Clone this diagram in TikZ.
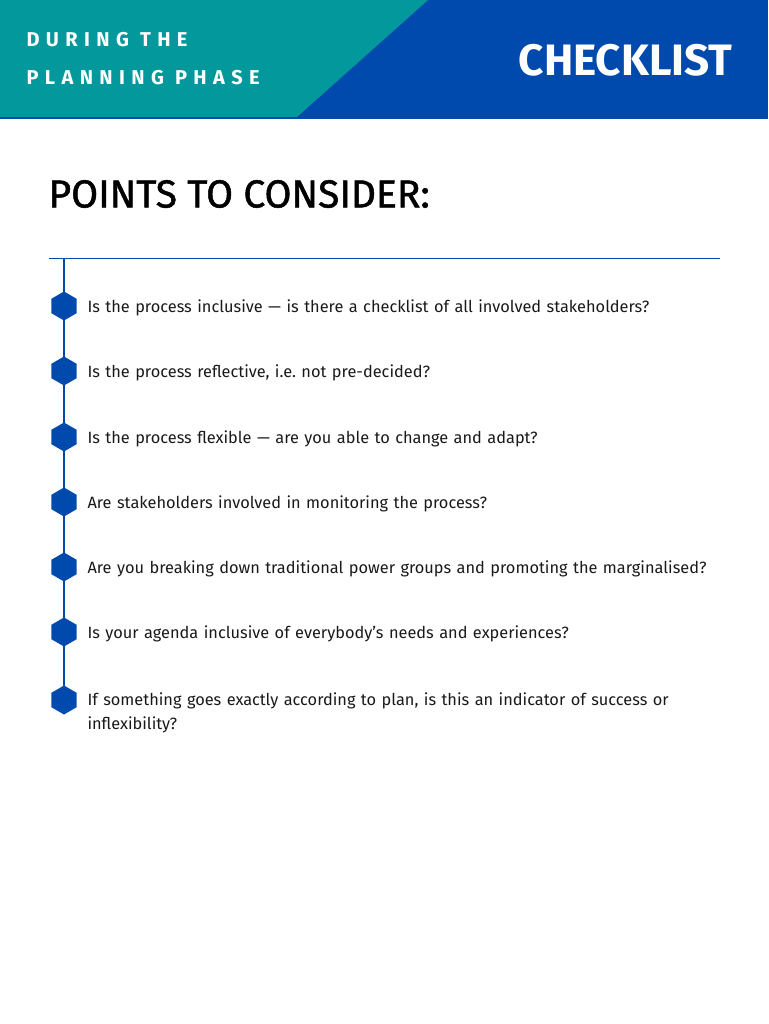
\documentclass[tikz,border=0pt]{standalone}
\usepackage{fontspec}
\setmainfont{Fira Sans}
\usetikzlibrary{shapes.geometric}
\definecolor{teal1}{HTML}{03989C}
\definecolor{blue1}{HTML}{004AAD}
\tikzset{hex/.style={regular polygon,regular polygon sides=6,shape border rotate=30,fill=blue1,minimum size=29pt,inner sep=0pt},
item/.style={anchor=west,font=\fontsize{16.35}{24}\selectfont\addfontfeature{Weight=Light},text=black!90,align=left,text width=660pt}}
\begin{document}
\begin{tikzpicture}[x=1pt,y=-1pt]
\useasboundingbox (0,0) rectangle (768,1024);
\fill[blue1] (0,0) rectangle (768,119);
\fill[teal1] (0,0) -- (428,0) -- (297,117) -- (0,117) -- cycle;
\node[anchor=west,text=white,font=\fontsize{20}{38}\selectfont\bfseries\addfontfeature{LetterSpace=32},align=left] (h1) at (23,59) {DURING THE\\PLANNING PHASE};
\node[anchor=east,text=white,font=\fontsize{44}{44}\selectfont\bfseries] (h2) at (736,60) {CHECKLIST};
\node[anchor=west,font=\fontsize{39}{39}\selectfont\addfontfeature{FakeBold=1.3},text=black] (t) at (45,194) {POINTS TO CONSIDER:};
\coordinate (l0) at (49,258); \coordinate (l1) at (720,258);
\draw[blue1,line width=1pt] (l0) -- (l1);
\coordinate (v0) at (64,258); \coordinate (v1) at (64,700);
\draw[blue1,line width=1.5pt] (v0) -- (v1);
\foreach \y/\t [count=\i] in {306/{Is the process inclusive — is there a checklist of all involved stakeholders?},
371/{Is the process reflective, i.e.\ not pre-decided?},
437/{Is the process flexible — are you able to change and adapt?},
502/{Are stakeholders involved in monitoring the process?},
567/{Are you breaking down traditional power groups and promoting the marginalised?},
632/{Is your agenda inclusive of everybody’s needs and experiences?}}{
\node[hex] (x\i) at (64,\y) {};
\node[item] (s\i) at (84,\y+2) {\t};
}
\node[hex] (x7) at (64,700) {};
\node[item,anchor=north west] (s7) at (84,689) {If something goes exactly according to plan, is this an indicator of success or\\inflexibility?};
\end{tikzpicture}
\end{document}
